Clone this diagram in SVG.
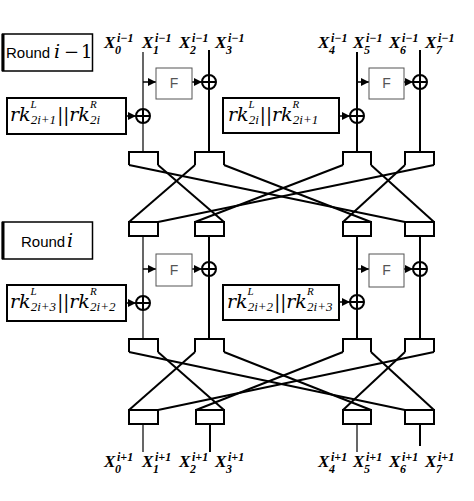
<svg xmlns="http://www.w3.org/2000/svg" width="474" height="501" viewBox="0 0 474 501">
<style>
.w1{stroke:#000;stroke-width:1.2;fill:none}
.w2{stroke:#000;stroke-width:2;fill:none}
.perm{stroke:#000;stroke-width:2;fill:none;stroke-linejoin:miter}
.fbox{fill:#fff;stroke:#555;stroke-width:1}
.ftxt{font-family:"Liberation Sans",Arial,sans-serif;font-size:14px;fill:#555;text-anchor:middle}
.kbox{fill:#fff;stroke:#000;stroke-width:2}
.rbox{fill:#fff;stroke:#000;stroke-width:1.5}
.rtxt{font-family:"Liberation Sans",Arial,sans-serif;font-size:15px;fill:#000}
.mi{font-family:"DejaVu Serif","Liberation Serif",serif;font-style:italic;font-size:19px}
.mu{font-family:"DejaVu Serif","Liberation Serif",serif;font-size:18px}
.ss{font-family:"Liberation Serif",serif;font-size:13px}
.sp{font-family:"Liberation Serif",serif;font-style:italic;font-size:11px}
.lab{font-family:"Liberation Serif",serif;font-weight:bold;font-style:italic;font-size:17px}
.ls{font-family:"Liberation Serif",serif;font-weight:bold;font-style:italic;font-size:12px}
.arr{stroke:#000;stroke-width:1.5;fill:none;marker-end:url(#ah)}
.xc{fill:#fff;stroke:#000;stroke-width:2}
.xl{stroke:#000;stroke-width:2}
</style>
<defs>
<marker id="ah" viewBox="0 0 10 10" refX="10" refY="5" markerWidth="8" markerHeight="8" markerUnits="userSpaceOnUse" orient="auto"><path d="M0,0 L10,5 L0,10 z" fill="#000"/></marker>
<g id="xorsym"><circle class="xc" cx="0" cy="0" r="7"/><line class="xl" x1="-7" y1="0" x2="7" y2="0"/><line class="xl" x1="0" y1="-7" x2="0" y2="7"/></g>
</defs>

<g id="connectors">
  <line class="w1" x1="143" y1="52" x2="143" y2="152"/>
  <line class="w2" x1="209" y1="50" x2="209" y2="152"/>
  <line class="w2" x1="357" y1="52" x2="357" y2="152"/>
  <line class="w2" x1="420" y1="50" x2="420" y2="152"/>
  <line class="w1" x1="143" y1="236" x2="143" y2="339"/>
  <line class="w2" x1="209" y1="236" x2="209" y2="339"/>
  <line class="w2" x1="357" y1="236" x2="357" y2="339"/>
  <line class="w2" x1="420" y1="236" x2="420" y2="339"/>
  <line class="w1" x1="143" y1="424" x2="143" y2="452"/>
  <line class="w2" x1="210" y1="424" x2="210" y2="452"/>
  <line class="w1" x1="357" y1="424" x2="357" y2="452"/>
  <line class="w2" x1="420" y1="424" x2="420" y2="446"/>

  <path class="perm" d="M129,165 L129,152 L158,152 L158,165"/>
  <path class="perm" d="M195,165 L195,152 L224,152 L224,165"/>
  <path class="perm" d="M343,165 L343,152 L371,152 L371,165"/>
  <path class="perm" d="M405,165 L405,152 L434,152 L434,165"/>
  <path class="perm" d="M129,222 L158,222 L158,236 L129,236 Z"/>
  <path class="perm" d="M195,222 L224,222 L224,236 L195,236 Z"/>
  <path class="perm" d="M343,222 L371,222 L371,236 L343,236 Z"/>
  <path class="perm" d="M405,222 L434,222 L434,236 L405,236 Z"/>
  <line class="perm" x1="129" y1="165" x2="405" y2="222"/>
  <line class="perm" x1="158" y1="165" x2="224" y2="222"/>
  <line class="perm" x1="195" y1="165" x2="129" y2="222"/>
  <line class="perm" x1="224" y1="165" x2="371" y2="222"/>
  <line class="perm" x1="343" y1="165" x2="195" y2="222"/>
  <line class="perm" x1="371" y1="165" x2="434" y2="222"/>
  <line class="perm" x1="405" y1="165" x2="343" y2="222"/>
  <line class="perm" x1="434" y1="165" x2="158" y2="222"/>

  <path class="perm" d="M129,352 L129,339 L158,339 L158,352"/>
  <path class="perm" d="M195,352 L195,339 L224,339 L224,352"/>
  <path class="perm" d="M343,352 L343,339 L371,339 L371,352"/>
  <path class="perm" d="M405,352 L405,339 L434,339 L434,352"/>
  <path class="perm" d="M129,410 L158,410 L158,424 L129,424 Z"/>
  <path class="perm" d="M196,410 L224,410 L224,424 L196,424 Z"/>
  <path class="perm" d="M343,410 L371,410 L371,424 L343,424 Z"/>
  <path class="perm" d="M405,410 L434,410 L434,424 L405,424 Z"/>
  <line class="perm" x1="129" y1="352" x2="405" y2="410"/>
  <line class="perm" x1="158" y1="352" x2="224" y2="410"/>
  <line class="perm" x1="195" y1="352" x2="129" y2="410"/>
  <line class="perm" x1="224" y1="352" x2="371" y2="410"/>
  <line class="perm" x1="343" y1="352" x2="196" y2="410"/>
  <line class="perm" x1="371" y1="352" x2="434" y2="410"/>
  <line class="perm" x1="405" y1="352" x2="343" y2="410"/>
  <line class="perm" x1="434" y1="352" x2="158" y2="410"/>

  <line class="arr" x1="143" y1="82" x2="156" y2="82"/>
  <line class="arr" x1="192" y1="82" x2="202" y2="82"/>
  <line class="arr" x1="126" y1="116" x2="136" y2="116"/>
  <line class="arr" x1="357" y1="82" x2="369" y2="82"/>
  <line class="arr" x1="404" y1="82" x2="413" y2="82"/>
  <line class="arr" x1="339" y1="116" x2="350" y2="116"/>
  <line class="arr" x1="143" y1="269" x2="156" y2="269"/>
  <line class="arr" x1="192" y1="269" x2="202" y2="269"/>
  <line class="arr" x1="126" y1="303" x2="136" y2="303"/>
  <line class="arr" x1="357" y1="269" x2="369" y2="269"/>
  <line class="arr" x1="404" y1="269" x2="413" y2="269"/>
  <line class="arr" x1="339" y1="302" x2="350" y2="302"/>
</g>

<g id="xor1"><use href="#xorsym" x="209" y="82"/></g>
<g id="xor2"><use href="#xorsym" x="143" y="116"/></g>
<g id="xor3"><use href="#xorsym" x="420" y="82"/></g>
<g id="xor4"><use href="#xorsym" x="357" y="116"/></g>
<g id="xor5"><use href="#xorsym" x="209" y="269"/></g>
<g id="xor6"><use href="#xorsym" x="143" y="303"/></g>
<g id="xor7"><use href="#xorsym" x="420" y="269"/></g>
<g id="xor8"><use href="#xorsym" x="357" y="302"/></g>

<g id="round1">
  <rect class="rbox" x="2.5" y="34" width="90" height="37"/>
  <line x1="3" y1="34" x2="3" y2="71" stroke="#000" stroke-width="3"/>
  <text class="rtxt" x="6" y="58">Round</text>
  <text class="mi" x="54" y="58" font-size="17">i</text>
  <text class="mu" x="64" y="58">−</text>
  <text class="mu" x="81" y="58">1</text>
</g>
<g id="round2">
  <rect class="rbox" x="2.5" y="222" width="90" height="37"/>
  <line x1="3" y1="222" x2="3" y2="259" stroke="#000" stroke-width="3"/>
  <text class="rtxt" x="21" y="247">Round</text>
  <text class="mi" x="67" y="247" font-size="17">i</text>
</g>

<g id="F1"><rect class="fbox" x="156" y="68" width="36" height="31"/><text class="ftxt" x="174" y="88">F</text></g>
<g id="F2"><rect class="fbox" x="369" y="68" width="35" height="31"/><text class="ftxt" x="386.5" y="88">F</text></g>
<g id="F3"><rect class="fbox" x="156" y="254" width="36" height="32"/><text class="ftxt" x="174" y="275">F</text></g>
<g id="F4"><rect class="fbox" x="369" y="254" width="35" height="33"/><text class="ftxt" x="386.5" y="275">F</text></g>

<g id="key1">
  <rect class="kbox" x="7" y="98" width="119" height="36"/>
  <text class="mi" x="10" y="121">rk<tspan class="sp" dy="-13">L</tspan><tspan class="ss" dx="-6" dy="16">2i+1</tspan><tspan class="mu" dx="1" dy="-3">||</tspan>rk<tspan class="sp" dy="-13">R</tspan><tspan class="ss" dx="-6.5" dy="16">2<tspan font-style="italic">i</tspan></tspan></text>
</g>
<g id="key2">
  <rect class="kbox" x="223" y="98" width="116" height="35"/>
  <text class="mi" x="228" y="121">rk<tspan class="sp" dy="-13">L</tspan><tspan class="ss" dx="-6" dy="16">2i</tspan><tspan class="mu" dx="1" dy="-3">||</tspan>rk<tspan class="sp" dy="-13">R</tspan><tspan class="ss" dx="-6.5" dy="16">2<tspan font-style="italic">i</tspan>+1</tspan></text>
</g>
<g id="key3">
  <rect class="kbox" x="7" y="285" width="119" height="36"/>
  <text class="mi" x="10" y="308">rk<tspan class="sp" dy="-13">L</tspan><tspan class="ss" dx="-6" dy="16">2i+3</tspan><tspan class="mu" dx="1" dy="-3">||</tspan>rk<tspan class="sp" dy="-13">R</tspan><tspan class="ss" dx="-6.5" dy="16">2<tspan font-style="italic">i</tspan>+2</tspan></text>
</g>
<g id="key4">
  <rect class="kbox" x="223" y="285" width="116" height="35"/>
  <text class="mi" x="227" y="308">rk<tspan class="sp" dy="-13">L</tspan><tspan class="ss" dx="-6" dy="16">2i+2</tspan><tspan class="mu" dx="1" dy="-3">||</tspan>rk<tspan class="sp" dy="-13">R</tspan><tspan class="ss" dx="-6.5" dy="16">2<tspan font-style="italic">i</tspan>+3</tspan></text>
</g>

<g id="labels-top">
  <text class="lab" x="104" y="48">X</text><text class="ls" x="117" y="42">i−1</text><text class="ls" x="115" y="54">0</text>
  <text class="lab" x="142" y="48">X</text><text class="ls" x="155" y="42">i−1</text><text class="ls" x="153" y="54">1</text>
  <text class="lab" x="179" y="48">X</text><text class="ls" x="192" y="42">i−1</text><text class="ls" x="190" y="54">2</text>
  <text class="lab" x="215" y="48">X</text><text class="ls" x="228" y="42">i−1</text><text class="ls" x="226" y="54">3</text>
  <text class="lab" x="318" y="48">X</text><text class="ls" x="331" y="42">i−1</text><text class="ls" x="329" y="54">4</text>
  <text class="lab" x="353" y="48">X</text><text class="ls" x="366" y="42">i−1</text><text class="ls" x="364" y="54">5</text>
  <text class="lab" x="389" y="48">X</text><text class="ls" x="402" y="42">i−1</text><text class="ls" x="400" y="54">6</text>
  <text class="lab" x="425" y="48">X</text><text class="ls" x="438" y="42">i−1</text><text class="ls" x="436" y="54">7</text>
</g>
<g id="labels-bottom">
  <text class="lab" x="104" y="467">X</text><text class="ls" x="117" y="461">i+1</text><text class="ls" x="115" y="473">0</text>
  <text class="lab" x="142" y="467">X</text><text class="ls" x="155" y="461">i+1</text><text class="ls" x="153" y="473">1</text>
  <text class="lab" x="179" y="467">X</text><text class="ls" x="192" y="461">i+1</text><text class="ls" x="190" y="473">2</text>
  <text class="lab" x="215" y="467">X</text><text class="ls" x="228" y="461">i+1</text><text class="ls" x="226" y="473">3</text>
  <text class="lab" x="318" y="467">X</text><text class="ls" x="331" y="461">i+1</text><text class="ls" x="329" y="473">4</text>
  <text class="lab" x="353" y="467">X</text><text class="ls" x="366" y="461">i+1</text><text class="ls" x="364" y="473">5</text>
  <text class="lab" x="389" y="467">X</text><text class="ls" x="402" y="461">i+1</text><text class="ls" x="400" y="473">6</text>
  <text class="lab" x="425" y="467">X</text><text class="ls" x="438" y="461">i+1</text><text class="ls" x="436" y="473">7</text>
</g>
</svg>
